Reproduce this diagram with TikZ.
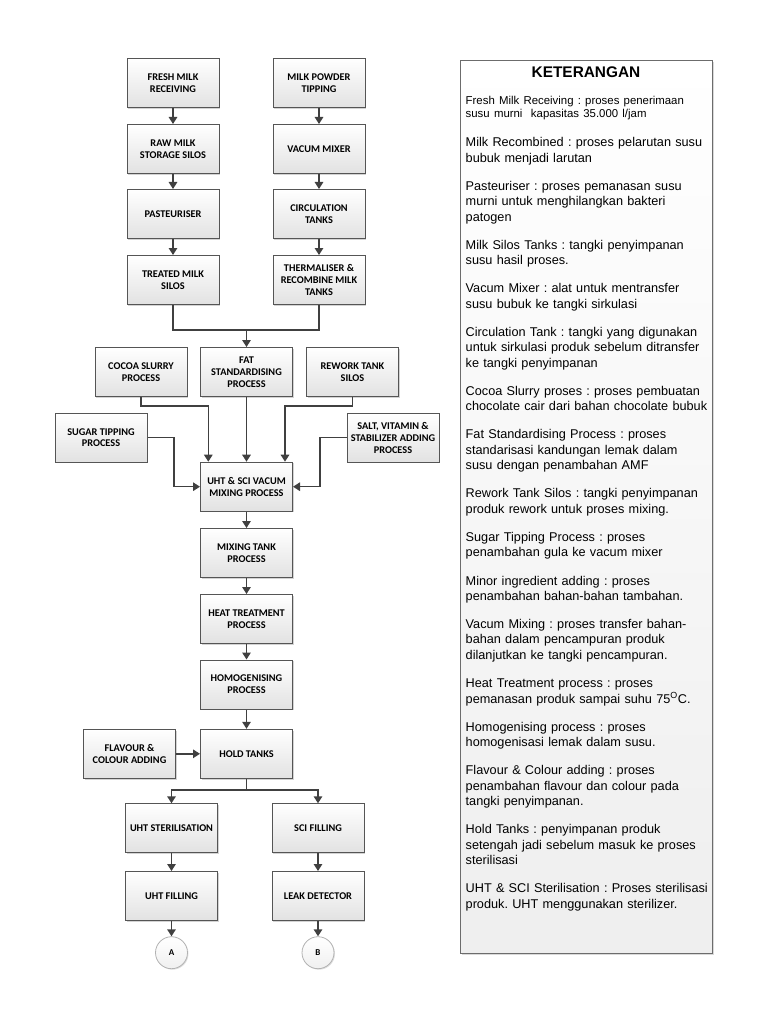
\documentclass[tikz,border=0pt]{standalone}
\usepackage{fontspec}
\setmainfont{Liberation Sans}
\newfontfamily\boxfont{Carlito}
\usetikzlibrary{arrows.meta,shadows}
\frenchspacing

\definecolor{linegray}{HTML}{404040}
\definecolor{edgegray}{HTML}{555555}
\definecolor{fillgray}{HTML}{E2E2E2}

\tikzset{
  proc/.style={draw=edgegray, line width=1pt, top color=white, bottom color=fillgray,
    minimum width=92pt, minimum height=49pt, inner sep=1pt, align=center,
    font=\boxfont\bfseries\fontsize{10.3}{11.8}\selectfont,
    drop shadow={shadow xshift=1.2pt, shadow yshift=-1.2pt, opacity=0.35, fill=gray}},
  conn/.style={circle, draw=gray!60, line width=0.8pt, top color=white, bottom color=gray!12,
    minimum size=32pt, inner sep=0pt, font=\boxfont\bfseries\fontsize{9}{10}\selectfont,
    drop shadow={shadow xshift=1pt, shadow yshift=-1pt, opacity=0.25, fill=gray}},
  flow/.style={draw=linegray, line width=1.4pt, -{Triangle[length=7pt,width=8.5pt]}},
  plain/.style={draw=linegray, line width=1.4pt}
}

\begin{document}
\begin{tikzpicture}[x=1pt,y=-1pt]
    \useasboundingbox (0,0) rectangle (768,1024);

    % Fresh milk line (left) and milk powder line (right)
    \node[proc] (fresh)   at (173,83)  {FRESH MILK\\RECEIVING};
    \node[proc] (raw)     at (173,149) {RAW MILK\\STORAGE SILOS};
    \node[proc] (past)    at (173,214) {PASTEURISER};
    \node[proc] (treated) at (173,280) {TREATED MILK\\SILOS};
    \node[proc] (powder)  at (319,83)  {MILK POWDER\\TIPPING};
    \node[proc] (vacum)   at (319,149) {VACUM MIXER};
    \node[proc] (circ)    at (319,214) {CIRCULATION\\TANKS};
    \node[proc] (therm)   at (319,280) {THERMALISER \&\\RECOMBINE MILK\\TANKS};

    \draw[flow] (fresh) -- (raw);
    \draw[flow] (raw) -- (past);
    \draw[flow] (past) -- (treated);
    \draw[flow] (powder) -- (vacum);
    \draw[flow] (vacum) -- (circ);
    \draw[flow] (circ) -- (therm);

    % Ingredients into the vacum mixing
    \node[proc] (cocoa)  at (141,372)   {COCOA SLURRY\\PROCESS};
    \node[proc] (fat)    at (246.5,372) {FAT\\STANDARDISING\\PROCESS};
    \node[proc] (rework) at (352.5,372) {REWORK TANK\\SILOS};
    \node[proc] (sugar)  at (101,437.7) {SUGAR TIPPING\\PROCESS};
    \node[proc] (salt)   at (393,437.7) {SALT, VITAMIN \&\\STABILIZER ADDING\\PROCESS};
    \node[proc] (mixvac) at (246.5,486.7) {UHT \& SCI VACUM\\MIXING PROCESS};

    \coordinate (merge) at (246.5,330);
    \draw[plain] (treated.south) |- (merge) -| (therm.south);
    \draw[flow] (merge) -- (fat.north);

    \coordinate (cocoaturn)  at (208.3,406);
    \coordinate (reworkturn) at (285,406);
    \coordinate (sugarturn)  at (174,437.7);
    \coordinate (saltturn)   at (320,437.7);
    \draw[flow] (cocoa.south) |- (cocoaturn) -- (cocoaturn |- mixvac.north);
    \draw[flow] (fat) -- (mixvac);
    \draw[flow] (rework.south) |- (reworkturn) -- (reworkturn |- mixvac.north);
    \draw[flow] (sugar.east) -- (sugarturn) |- (mixvac.west);
    \draw[flow] (salt.west) -- (saltturn) |- (mixvac.east);

    % Main process line
    \node[proc] (mixtank) at (246.5,553)   {MIXING TANK\\PROCESS};
    \node[proc] (heat)    at (246.5,619)   {HEAT TREATMENT\\PROCESS};
    \node[proc] (homog)   at (246.5,684.5) {HOMOGENISING\\PROCESS};
    \node[proc] (hold)    at (246.5,753.8) {HOLD TANKS};
    \node[proc] (flavour) at (129.5,753.8) {FLAVOUR \&\\COLOUR ADDING};

    \draw[flow] (mixvac) -- (mixtank);
    \draw[flow] (mixtank) -- (heat);
    \draw[flow] (heat) -- (homog);
    \draw[flow] (homog) -- (hold);
    \draw[flow] (flavour) -- (hold);

    % UHT and SCI branches
    \node[proc] (uhtster) at (171.5,828.3) {UHT STERILISATION};
    \node[proc] (scifill) at (318,828.3)   {SCI FILLING};
    \node[proc] (uhtfill) at (171.5,896)   {UHT FILLING};
    \node[proc] (leak)    at (318,896)     {LEAK DETECTOR};
    \node[conn] (conA)    at (171.5,952.7) {A};
    \node[conn] (conB)    at (318,952.7)   {B};

    \coordinate (split) at (246.5,790);
    \draw[plain] (hold.south) -- (split);
    \draw[flow] (split) -| (uhtster.north);
    \draw[flow] (split) -| (scifill.north);
    \draw[flow] (uhtster) -- (uhtfill);
    \draw[flow] (uhtfill) -- (conA);
    \draw[flow] (scifill) -- (leak);
    \draw[flow] (leak) -- (conB);

    % Keterangan (legend)
    \node[draw=gray!85!black, line width=0.9pt, top color=white, bottom color=gray!13,
      minimum width=252.3pt, minimum height=893.3pt, anchor=north west, inner sep=0pt,
      drop shadow={shadow xshift=1.2pt, shadow yshift=-1.2pt, opacity=0.3, fill=gray}]
      (ketbox) at (460,60) {};
    \node[font=\bfseries\fontsize{15.4}{18}\selectfont, inner sep=0pt] (kettitle) at (586,72) {KETERANGAN};
    \node[anchor=base west, text width=262pt, align=left, inner sep=0pt,
      font=\fontsize{12.7}{15.5}\selectfont] (kettext) at (465.5,105) {%
      {\fontsize{11.4}{13}\selectfont Fresh Milk Receiving : proses penerimaan\\
      susu murni\ \ kapasitas 35.000 l/jam\par}\vspace{13.5pt}%
      Milk Recombined : proses pelarutan susu\\
      bubuk menjadi larutan\\[12.5pt]
      Pasteuriser : proses pemanasan susu\\
      murni untuk menghilangkan bakteri\\
      patogen\\[12.5pt]
      Milk Silos Tanks : tangki penyimpanan\\
      susu hasil proses.\\[12.5pt]
      Vacum Mixer : alat untuk mentransfer\\
      susu bubuk ke tangki sirkulasi\\[12.5pt]
      Circulation Tank : tangki yang digunakan\\
      untuk sirkulasi produk sebelum ditransfer\\
      ke tangki penyimpanan\\[12.5pt]
      Cocoa Slurry proses : proses pembuatan\\
      chocolate cair dari bahan chocolate bubuk\\[12.5pt]
      Fat Standardising Process : proses\\
      standarisasi kandungan lemak dalam\\
      susu dengan penambahan AMF\\[12.5pt]
      Rework Tank Silos : tangki penyimpanan\\
      produk rework untuk proses mixing.\\[12.5pt]
      Sugar Tipping Process : proses\\
      penambahan gula ke vacum mixer\\[12.5pt]
      Minor ingredient adding : proses\\
      penambahan bahan-bahan tambahan.\\[12.5pt]
      Vacum Mixing : proses transfer bahan-\\
      bahan dalam pencampuran produk\\
      dilanjutkan ke tangki pencampuran.\\[12.5pt]
      Heat Treatment process : proses\\
      pemanasan produk sampai suhu 75\textsuperscript{O}C.\\[12.5pt]
      Homogenising process : proses\\
      homogenisasi lemak dalam susu.\\[12.5pt]
      Flavour \& Colour adding : proses\\
      penambahan flavour dan colour pada\\
      tangki penyimpanan.\\[12.5pt]
      Hold Tanks : penyimpanan produk\\
      setengah jadi sebelum masuk ke proses\\
      sterilisasi\\[12.5pt]
      UHT \& SCI Sterilisation : Proses sterilisasi\\
      produk. UHT menggunakan sterilizer.};
\end{tikzpicture}
\end{document}
